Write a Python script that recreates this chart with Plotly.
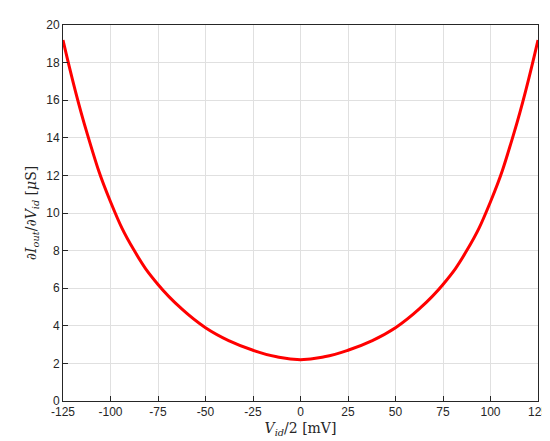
import plotly.graph_objects as go

x_mv = [-125, -112.5, -100, -87.5, -75, -62.5, -50, -37.5, -25, -12.5, 0,
        12.5, 25, 37.5, 50, 62.5, 75, 87.5, 100, 112.5, 125]
g_us = [19.2, 14.3, 10.6, 8.0, 6.2, 4.9, 3.9, 3.2, 2.7, 2.35, 2.2,
        2.35, 2.7, 3.2, 3.9, 4.9, 6.2, 8.0, 10.6, 14.3, 19.2]
x_ticks = [-125, -100, -75, -50, -25, 0, 25, 50, 75, 100, 125]
x_labels = [str(v) for v in x_ticks]
y_ticks = list(range(0, 21, 2))

fig = go.Figure(go.Scatter(x=x_mv, y=g_us, mode="lines",
                           line=dict(color="#ff0000", width=3, shape="spline", smoothing=1.3)))
ax = dict(showline=True, linecolor="#262626", linewidth=1, mirror=True, ticks="inside",
          ticklen=5, tickcolor="#262626", showgrid=True, gridcolor="#e0e0e0", zeroline=False,
          tickfont=dict(family="Liberation Sans", size=12, color="#262626"))
fig.update_xaxes(range=[-125, 125], tickvals=x_ticks, ticktext=x_labels,
                 title=dict(text="<i>V</i><sub><i>id</i></sub>/2 [mV]", standoff=4,
                            font=dict(family="DejaVu Serif", size=14, color="#262626")), **ax)
fig.update_yaxes(range=[0, 20], tickvals=y_ticks,
                 title=dict(text="∂<i>I</i><sub><i>out</i></sub>/∂<i>V</i><sub><i>id</i></sub> [<i>μ</i>S]", standoff=6,
                            font=dict(family="DejaVu Serif", size=14, color="#262626")), **ax)
fig.update_layout(width=550, height=441, margin=dict(l=55, r=16, t=10, b=48),
                  paper_bgcolor="white", plot_bgcolor="white", showlegend=False)
fig.write_html("out.html")
